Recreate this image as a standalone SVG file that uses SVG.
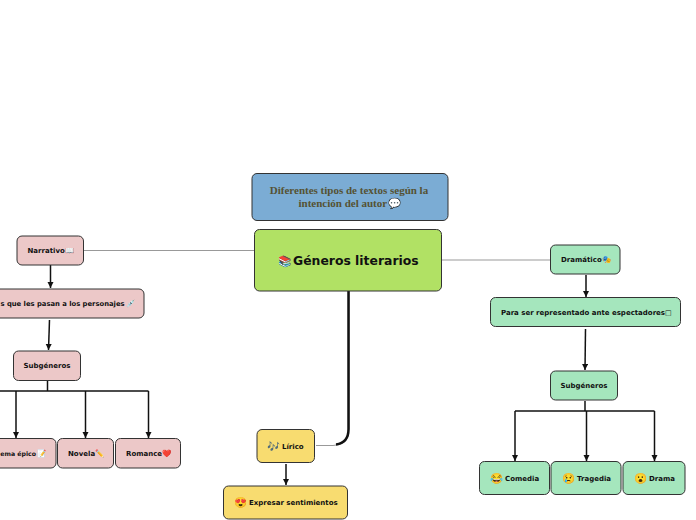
<svg xmlns="http://www.w3.org/2000/svg" width="696" height="520" viewBox="0 0 696 520">
<style>
text{font-family:"DejaVu Sans",sans-serif;font-weight:700;fill:#111;font-size:7px}
.e{font-family:"Noto Color Emoji","Noto Emoji",sans-serif;font-weight:400}
.s{font-size:7.500px}.l{font-size:10.500px}
.t{font-size:6.800px}
.sf{font-family:"Liberation Serif",serif;font-size:11px;fill:#555233}
.n{stroke:#333;stroke-width:1}
.pink{fill:#ecc8c8}.green{fill:#a5e6bd}.yellow{fill:#f8dc70}
.c{fill:none;stroke:#111;stroke-width:1.5}
.g{fill:none;stroke:#999;stroke-width:1}
</style>
<defs><marker id="a" markerUnits="userSpaceOnUse" markerWidth="7" markerHeight="7" refX="6" refY="3" orient="auto"><path d="M0 0L6 3L0 6z" fill="#111"/></marker></defs>
<g id="connectors">
<path class="g" d="M84 250.500H255"/>
<path class="g" d="M442 260H551"/>
<path d="M316 445.500H333Q349 445.500 349 429V291" fill="none" stroke="#999" stroke-width="1"/>
<path d="M336 444.500Q348.500 443 348.500 429V291" fill="none" stroke="#111" stroke-width="2.500"/>
<path class="c" marker-end="url(#a)" d="M50.500 265V288"/>
<path class="c" marker-end="url(#a)" d="M49.500 320L48.500 350"/>
<path class="c" d="M47.500 381V391"/>
<path class="c" d="M0 391H148.500"/>
<path class="c" marker-end="url(#a)" d="M16 391V438"/>
<path class="c" marker-end="url(#a)" d="M85.500 391V438"/>
<path class="c" marker-end="url(#a)" d="M148.500 391V438"/>
<path class="c" marker-end="url(#a)" d="M286 464V485"/>
<path class="c" marker-end="url(#a)" d="M586 275V297"/>
<path class="c" marker-end="url(#a)" d="M585.500 329L585 370"/>
<path class="c" d="M585 401V411"/>
<path class="c" d="M515 411H654.500"/>
<path class="c" marker-end="url(#a)" d="M515 411V461"/>
<path class="c" marker-end="url(#a)" d="M586.500 411V461"/>
<path class="c" marker-end="url(#a)" d="M654.500 411V461"/>
</g>
<g id="top-note"><rect class="n" x="252" y="173.500" width="196" height="47" rx="5" fill="#7bacd4"/>
<text class="sf" x="349" y="194" text-anchor="middle">Diferentes tipos de textos según la</text>
<text class="sf" x="298.500" y="207">intención del autor</text><text class="e l" x="388.500" y="207">💬</text></g>
<g id="center"><rect class="n" x="254.500" y="229.500" width="187" height="61.500" rx="5" fill="#b1e164"/>
<text class="e" x="278" y="265" style="font-size:11px">📚</text><text x="293" y="265" style="font-size:12.400px">Géneros literarios</text></g>
<g id="narrativo"><rect class="n pink" x="17" y="236" width="66.500" height="29" rx="5"/><text x="27.500" y="253">Narrativo</text><text class="e s" x="65" y="253">📖</text></g>
<g id="cosas"><rect class="n pink" x="-30" y="289" width="174" height="29" rx="5"/><text class="t" x="0.500" y="306">s que les pasan a los personajes</text><text class="e s" x="126" y="306">💉</text></g>
<g id="subgeneros-l"><rect class="n pink" x="13.500" y="351" width="67" height="29.500" rx="5"/><text x="47" y="368" text-anchor="middle">Subgéneros</text></g>
<g id="poema"><rect class="n pink" x="-30" y="438.500" width="86" height="29.500" rx="5"/><text x="0.300" y="456" style="font-size:6.200px">ema épico</text><text class="e s" x="37.500" y="456">📝</text></g>
<g id="novela"><rect class="n pink" x="57.500" y="438.500" width="56" height="29.500" rx="5"/><text x="68" y="456">Novela</text><text class="e s" x="95.500" y="456">✏️</text></g>
<g id="romance"><rect class="n pink" x="115.500" y="438.500" width="65" height="29.500" rx="5"/><text x="126" y="456">Romance</text><text class="e s" x="162" y="456">❤️</text></g>
<g id="lirico"><rect class="n yellow" x="257" y="429.500" width="57.500" height="33" rx="5"/><text class="e l" x="267" y="450">🎶</text><text x="282" y="449">Lírico</text></g>
<g id="expresar"><rect class="n yellow" x="223.500" y="486" width="124" height="33" rx="5"/><text class="e l" x="234" y="506">😍</text><text x="249" y="505">Expresar sentimientos</text></g>
<g id="dramatico"><rect class="n green" x="550.500" y="245" width="69.500" height="29" rx="5"/><text x="561" y="262">Dramático</text><text class="e s" x="602" y="262">🎭</text></g>
<g id="representado"><rect class="n green" x="490.500" y="297.500" width="190" height="29" rx="5"/><text x="501" y="315">Para ser representado ante espectadores□</text></g>
<g id="subgeneros-r"><rect class="n green" x="550.500" y="371" width="67" height="29" rx="5"/><text x="584" y="388" text-anchor="middle">Subgéneros</text></g>
<g id="comedia"><rect class="n green" x="479.500" y="461.500" width="70" height="33" rx="5"/><text class="e l" x="490" y="482">😂</text><text x="505" y="481">Comedia</text></g>
<g id="tragedia"><rect class="n green" x="551" y="461.500" width="70" height="33" rx="5"/><text class="e l" x="562" y="482">😢</text><text x="577" y="481">Tragedia</text></g>
<g id="drama"><rect class="n green" x="623" y="461.500" width="62" height="33" rx="5"/><text class="e l" x="634" y="482">😮</text><text x="649" y="481">Drama</text></g>
</svg>
